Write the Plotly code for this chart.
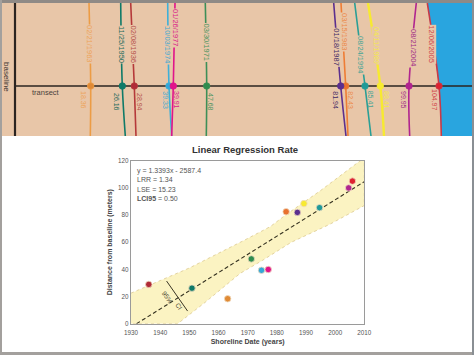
import plotly.graph_objects as go

# Shoreline data (regression panel + transect panel)
dates = ["02/08/1936", "11/25/1950", "02/21/1963", "03/30/1971", "10/03/1974", "01/26/1977",
         "03/15/1983", "01/18/1987", "04/11/1989", "08/24/1994", "08/21/2004", "12/06/2005"]
years = [1936.1, 1950.9, 1963.15, 1971.25, 1974.75, 1977.07, 1983.2, 1987.05, 1989.3, 1994.65, 2004.64, 2005.93]
distance = [28.94, 26.16, 18.36, 47.68, 39.33, 39.91, 82.43, 81.94, 88.41, 85.41, 99.95, 104.97]
colors = ["#b02a37", "#0f7a68", "#e08a35", "#2f8c4e", "#35a7d8", "#e0148a",
          "#e8702e", "#5b2f8e", "#f7ea30", "#1f9a98", "#b0258f", "#dd2230"]
line_colors = ["#b5393a", "#0f7a68", "#ec9c45", "#3c8f58", "#3fb0d8", "#e0148a",
               "#ee7d35", "#5b2f8e", "#f7ea30", "#2a9f96", "#b0258f", "#c83a48"]
label_colors = ["#b5504a", "#1c6b5c", "#eda45a", "#4c9460", "#45a9cf", "#d81e8a",
                "#ec8a4a", "#3f2a66", "#f4e84a", "#45a596", "#a02c86", "#d0444a"]

# Map panel (schematic image units, left to right)
shore_top = [130.7, 120.7, 89, 205.3, 167.7, 175, 341, 333.7, 368, 354.7, 416.3, 427.3]
shore_mid = [134.3, 122.3, 90.7, 206.7, 169, 173.3, 345.7, 340.7, 380.3, 365, 409, 439]
shore_bot = [136, 125.3, 90.3, 206.3, 171.7, 171.7, 348, 346, 384, 371, 409.7, 441.3]
label_x = [132.5, 121, 89, 205.5, 167, 175, 344, 335.7, 376, 360, 413, 430.7]
label_y = [44, 44, 44, 42, 45, 28, 32, 47, 45, 55, 48, 44]
value_x = [140, 117, 84, 211, 165.7, 177, 350.7, 335.7, 387, 371.3, 404, 435]
value_y = [102, 102, 100, 102, 100, 100, 100, 100, 100, 100, 100, 100]
transect_depth = [3, 86, 136]

# Regression and confidence band
slope, intercept = 1.3393, -2587.4
fit_x = [1930, 2010]
band_x = [1930, 1950, 1969, 1977.7, 1983, 1995, 2008, 2010, 2010, 1998, 1985, 1975, 1967.4, 1955, 1946, 1930]
band_y = [22.5, 41, 61.6, 71.4, 80, 98, 119, 122, 87, 73, 60, 46.5, 37, 15, 0, 0]
ci_x = [1942.2, 1949.4]
ci_y = [31.4, 9.3]
x_ticks = [1930, 1940, 1950, 1960, 1970, 1980, 1990, 2000, 2010]
y_ticks = [0, 20, 40, 60, 80, 100, 120]
stats = ["y = 1.3393x - 2587.4", "LRR = 1.34", "LSE = 15.23", "<b>LCI95</b> = 0.50"]
stat_y = [112.4, 105.8, 98.8, 92.1]

W, H = 474, 355
PEACH = "#e8c6a8"
FONT = "Liberation Sans"
fig = go.Figure()

# Map: blue water beyond the last shoreline
fig.add_trace(go.Scatter(
    x=[shore_top[-1], shore_mid[-1], shore_bot[-1], W, W], y=transect_depth + [136, 3],
    mode="lines", fill="toself", fillcolor="#29a5df", line=dict(width=0),
    xaxis="x2", yaxis="y2", hoverinfo="skip", showlegend=False))

for i in range(len(dates)):
    fig.add_trace(go.Scatter(
        x=[shore_top[i], shore_mid[i], shore_bot[i]], y=transect_depth, mode="lines",
        line=dict(color=line_colors[i], width=2.4 if i == 8 else 1.6, shape="spline"),
        xaxis="x2", yaxis="y2", hoverinfo="skip", showlegend=False))

fig.add_trace(go.Scatter(x=[15, W], y=[86, 86], mode="lines", line=dict(color="#2b2420", width=1.4),
                         xaxis="x2", yaxis="y2", hoverinfo="skip", showlegend=False))
fig.add_trace(go.Scatter(x=[15, 15], y=[3, 136], mode="lines", line=dict(color="#2b2420", width=2.2),
                         xaxis="x2", yaxis="y2", hoverinfo="skip", showlegend=False))
fig.add_trace(go.Scatter(x=shore_mid, y=[86] * 12, mode="markers",
                         marker=dict(color=colors, size=6.5, line=dict(color=line_colors, width=0.8)),
                         xaxis="x2", yaxis="y2", hoverinfo="skip", showlegend=False))

# Regression panel
fig.add_trace(go.Scatter(x=band_x, y=band_y, mode="lines", fill="toself", fillcolor="#fbf3c2",
                         line=dict(color="#dcc98f", width=0.8, dash="dot"),
                         hoverinfo="skip", showlegend=False))
fig.add_trace(go.Scatter(x=fit_x, y=[slope * v + intercept for v in fit_x], mode="lines",
                         line=dict(color="#33301f", width=1.1, dash="4px,2.5px"),
                         hoverinfo="skip", showlegend=False))
fig.add_trace(go.Scatter(x=ci_x, y=ci_y, mode="lines", line=dict(color="#3a3524", width=1),
                         hoverinfo="skip", showlegend=False))
fig.add_trace(go.Scatter(x=years, y=distance, mode="markers",
                         marker=dict(color=colors, size=6.5, line=dict(color="#f0dcc0", width=0.8)),
                         hoverinfo="skip", showlegend=False))

ann = []
def text(x, y, s, size=7.5, color="#333", angle=0, xref="x2", yref="y2", bg=None, anchor="center"):
    ann.append(dict(x=x, y=y, xref=xref, yref=yref, text=s, showarrow=False, textangle=angle,
                    xanchor=anchor, yanchor="middle", bgcolor=bg, borderpad=0,
                    font=dict(family=FONT, size=size, color=color)))

for i in range(len(dates)):
    text(label_x[i], label_y[i], dates[i], 7.5, label_colors[i], 90, bg=PEACH)
    text(value_x[i], value_y[i], f"{distance[i]:.2f}", 7, label_colors[i], 90)
text(7, 77, "baseline", 8, "#3a3430", 90)
text(46, 92, "transect", 7.5, "#4a423c")

for s, y in zip(stats, stat_y):
    text(1931.8, y, s, 7, "#555555", xref="x", yref="y", anchor="left")
text(1942.6, 19.5, "95%", 6.6, "#4a4632", 55, xref="x", yref="y")
text(1946.6, 13.0, "CI", 6.6, "#4a4632", 55, xref="x", yref="y")

ann.append(dict(x=245 / W, y=1 - 149 / H, xref="paper", yref="paper", text="<b>Linear Regression Rate</b>",
                showarrow=False, font=dict(family=FONT, size=9.5, color="#333")))

ax_font = dict(family=FONT, size=6.3, color="#555")
title_font = dict(family=FONT, size=7, color="#444")
fig.update_layout(
    width=W, height=H, autosize=False, margin=dict(l=0, r=0, t=0, b=0, pad=0, autoexpand=False),
    paper_bgcolor="white", plot_bgcolor="rgba(0,0,0,0)",
    showlegend=False, annotations=ann,
    xaxis=dict(domain=[131 / W, 364.3 / W], range=[1930, 2010], tickvals=x_ticks, showgrid=False, zeroline=False,
               showline=True, mirror=True, linecolor="#9a9a9a", linewidth=1.4,
               ticks="outside", ticklen=3, tickwidth=1, tickcolor="rgba(0,0,0,0)", tickfont=ax_font,
               automargin=False,
               title=dict(text="<b>Shoreline Date (years)</b>", font=title_font, standoff=3)),
    yaxis=dict(domain=[1 - 323.7 / H, 1 - 160.7 / H], range=[0, 120], tickvals=y_ticks, showgrid=False, zeroline=False,
               showline=True, mirror=True, linecolor="#9a9a9a", linewidth=1.4, ticks="", tickfont=ax_font,
               automargin=False,
               title=dict(text="<b>Distance from baseline (meters)</b>", font=title_font, standoff=4)),
    xaxis2=dict(domain=[0, 1], range=[0, W], visible=False, fixedrange=True, automargin=False),
    yaxis2=dict(domain=[1 - 136 / H, 1 - 3 / H], range=[136, 3], visible=False, fixedrange=True, automargin=False),
    shapes=[
        dict(type="rect", xref="x2", yref="y2", x0=0, x1=W, y0=3, y1=136, fillcolor=PEACH, line_width=0, layer="below"),
        dict(type="rect", xref="paper", yref="paper", x0=0, x1=1, y0=1 - 3 / H, y1=1, fillcolor="#8f8a86", line_width=0, layer="above"),
        dict(type="rect", xref="paper", yref="paper", x0=0, x1=2 / W, y0=0, y1=1, fillcolor="#a3a09d", line_width=0, layer="above"),
        dict(type="rect", xref="paper", yref="paper", x0=0, x1=1, y0=0, y1=3 / H, fillcolor="#a3a09d", line_width=0, layer="above"),
        dict(type="rect", xref="paper", yref="paper", x0=1 - 2 / W, x1=1, y0=0, y1=1, fillcolor="#8a8f94", line_width=0, layer="above"),
    ],
)
fig.write_html("out.html", config={"displayModeBar": False},
               post_script="document.body.style.margin='0';document.body.style.overflow='hidden';")
